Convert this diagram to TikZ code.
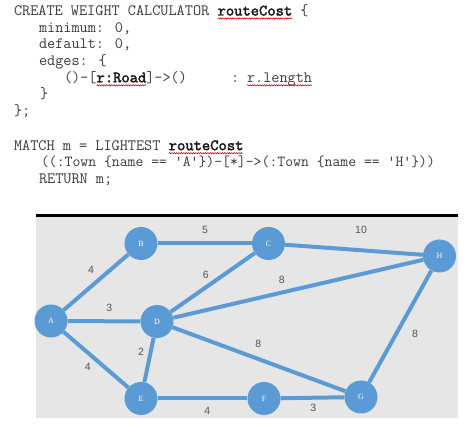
\documentclass[tikz,border=0pt]{standalone}
\usepackage{fontspec}
\setmainfont{Liberation Serif}
\setsansfont{Liberation Sans}
\newfontfamily\codebf{lmmono10-regular}[Extension=.otf, FakeBold=2.2]
\usetikzlibrary{backgrounds,decorations.pathmorphing}
\definecolor{nodeblue}{HTML}{5B9BD5}
\definecolor{codegray}{HTML}{3A3A3A}
\definecolor{panelgray}{HTML}{E6E6E6}
\definecolor{labgray}{HTML}{555555}
\begin{document}
\begin{tikzpicture}[x=1pt,y=-1pt,
 code/.style={anchor=base west, inner sep=0pt, outer sep=0pt, text=codegray, font=\fontsize{15.8}{18}\selectfont\ttfamily},
 codeb/.style={code, text=black!90, font=\fontsize{15.8}{18}\selectfont\codebf},
 town/.style={circle, fill=nodeblue, minimum size=33pt, inner sep=0pt, text=white, font=\fontsize{8}{9}\selectfont},
 road/.style={draw=nodeblue, line width=4pt},
 wt/.style={text=labgray, font=\sffamily\fontsize{10.5}{12}\selectfont, inner sep=0pt},
 squig/.style={draw=red!85!black, line width=0.6pt, decorate, decoration={snake, amplitude=0.6pt, segment length=2.4pt}}
]
\useasboundingbox (0,0) rectangle (474,427);

% ---- code ----
\node[code] (l1) at (14,15.5) {CREATE WEIGHT CALCULATOR};
\node[codeb] (rc1) at ([xshift=8.3pt]l1.base east) {routeCost};
\node[code] (l1b) at (rc1.base east) {\ \{};
\node[code] (l2) at (39,32.2) {minimum: 0,};
\node[code] (l3) at (39,48.9) {default: 0,};
\node[code] (l4) at (39,65.6) {edges: \{};
\node[code] (l5a) at (64,82.3) {()-[};
\node[codeb] (road) at (l5a.base east) {r:Road};
\node[code] (l5b) at (road.base east) {]->()};
\node[code] (l5c) at (231,82.3) {:};
\node[code] (len) at (247,82.3) {r.length};
\node[code] (l6) at (40,99.0) {\}};
\node[code] (l7) at (14,115.7) {\};};
\node[code] (l8) at (14,150.2) {MATCH m = LIGHTEST};
\node[codeb] (rc2) at ([xshift=8.3pt]l8.base east) {routeCost};
\node[code, font=\fontsize{15.3}{18}\selectfont\ttfamily] (l9) at (41,166.9) {((:Town \{name == 'A'\})-[*]->(:Town \{name == 'H'\}))};
\node[code] (l10) at (39,183.6) {RETURN m;};

\foreach \w in {rc1,road,len,rc2}
  \draw[squig] ([yshift=-3pt]\w.base west) -- ([yshift=-3pt]\w.base east);

% ---- graph ----
\node[town] (A) at (51,321) {A};
\node[town] (B) at (141,243.5) {B};
\node[town] (C) at (268.5,243.5) {C};
\node[town] (H) at (439.5,256) {H};
\node[town] (D) at (157,321.5) {D};
\node[town] (E) at (141,398.5) {E};
\node[town] (F) at (264,398.5) {F};
\node[town] (G) at (361,397) {G};

\begin{pgfonlayer}{background}
  \fill[panelgray] (36,217) rectangle (458,418);
  \draw[line width=3pt] (36,215.5) -- (458,215.5);
  \draw[road] (A) -- (B);
  \draw[road] (A) -- (D);
  \draw[road] (A) -- (E);
  \draw[road] (B) -- (C);
  \draw[road] (C) -- (H);
  \draw[road] (C) -- (D);
  \draw[road] (D) -- (H);
  \draw[road] (D) -- (E);
  \draw[road] (D) -- (G);
  \draw[road] (E) -- (F);
  \draw[road] (F) -- (G);
  \draw[road] (G) -- (H);
\end{pgfonlayer}

\node[wt] (wBC) at (205,230) {5};
\node[wt] (wCH) at (361,230) {10};
\node[wt] (wAB) at (91,270) {4};
\node[wt] (wCD) at (205.7,275) {6};
\node[wt] (wDH) at (281.7,280) {8};
\node[wt] (wAD) at (109.3,307.7) {3};
\node[wt] (wDE) at (141,351.7) {2};
\node[wt] (wAE) at (87.7,367.3) {4};
\node[wt] (wDG) at (258.3,344.3) {8};
\node[wt] (wGH) at (415,334.3) {8};
\node[wt] (wEF) at (207.3,410.7) {4};
\node[wt] (wFG) at (313.3,408.3) {3};
\end{tikzpicture}
\end{document}
